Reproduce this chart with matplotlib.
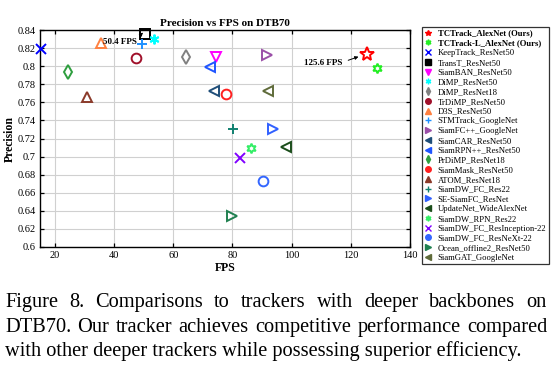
import matplotlib
matplotlib.use("Agg")
import matplotlib.pyplot as plt
from matplotlib.lines import Line2D

plt.rcParams["font.family"] = ["Liberation Serif", "DejaVu Serif"]

trackers = [
    "TCTrack_AlexNet (Ours)", "TCTrack-L_AlexNet (Ours)", "KeepTrack_ResNet50",
    "TransT_ResNet50", "SiamBAN_ResNet50", "DiMP_ResNet50", "DiMP_ResNet18",
    "TrDiMP_ResNet50", "D3S_ResNet50", "STMTrack_GoogleNet", "SiamFC++_GoogleNet",
    "SiamCAR_ResNet50", "SiamRPN++_ResNet50", "PrDiMP_ResNet18", "SiamMask_ResNet50",
    "ATOM_ResNet18", "SiamDW_FC_Res22", "SE-SiamFC_ResNet", "UpdateNet_WideAlexNet",
    "SiamDW_RPN_Res22", "SiamDW_FC_ResInception-22", "SiamDW_FC_ResNeXt-22",
    "Ocean_offline2_ResNet50", "SiamGAT_GoogleNet",
]
fps = [125.6, 128.7, 15.3, 50.4, 74.4, 53.6, 64.3, 47.3, 35.6, 49.4, 91.8,
       73.9, 72.3, 24.3, 77.7, 31.0, 80.3, 93.8, 98.1, 86.3, 82.6, 90.2, 80.0, 92.1]
precision = [0.813, 0.798, 0.819, 0.836, 0.810, 0.830, 0.810, 0.809, 0.826, 0.825,
             0.812, 0.773, 0.799, 0.794, 0.769, 0.766, 0.731, 0.730, 0.711, 0.709,
             0.698, 0.673, 0.634, 0.773]
colors = ["#ff0000", "#22ee22", "#0000ff", "#000000", "#ff00ff", "#00ffff", "#808080",
          "#a0102a", "#ff8040", "#1e90ff", "#9b4fa8", "#1f4e79", "#1f55ff", "#2e9e3e",
          "#ff2020", "#8b3a2a", "#108070", "#3060ff", "#1a4d1a", "#33ee66", "#8000ff",
          "#3366ff", "#208050", "#5f6b3a"]
markers = ["*", (6, 1, 0), "x", "s", "v", (6, 2, 0), "d", "o", "^", "+", ">",
           "<", "<", "d", "o", "^", "+", ">", "<", (6, 1, 0), "x", "o", ">", "<"]

caption = [
    "Figure 8.  Comparisons to trackers with deeper backbones on",
    "DTB70. Our tracker achieves competitive performance compared",
    "with other deeper trackers while possessing superior efficiency.",
]

W, H = 555, 368
fig = plt.figure(figsize=(W / 100, H / 100), dpi=100)
ax = fig.add_axes([40 / W, 1 - 247 / H, 370 / W, 217 / H])

handles = []
for name, x, y, c, m in zip(trackers, fps, precision, colors, markers):
    size = 10 if m == "*" else 7
    ax.plot(x, y, linestyle="none", marker=m, markersize=size, markerfacecolor="none",
            markeredgecolor=c, markeredgewidth=1.4, zorder=3, clip_on=False)
    handles.append(Line2D([], [], linestyle="none", marker=m, markersize=4,
                          color=c, markerfacecolor=c, markeredgecolor=c))

ax.annotate("50.4 FPS", xy=(49.8, 0.8372), xytext=(47.8, 0.8262), fontsize=6.5,
            fontweight="bold", ha="right", va="center",
            arrowprops=dict(arrowstyle="-|>", color="black", lw=0.7, mutation_scale=5,
                            shrinkA=0, shrinkB=0, relpos=(1, 1)))
ax.annotate("125.6 FPS", xy=(122.6, 0.8105), xytext=(117.3, 0.8035), fontsize=6.5,
            fontweight="bold", ha="right", va="center",
            arrowprops=dict(arrowstyle="-|>", color="black", lw=0.7, mutation_scale=5,
                            shrinkA=2, shrinkB=0, relpos=(1, 0.6)))

ax.set_xlim(15, 140)
ax.set_ylim(0.6, 0.84)
ax.set_xticks([20, 40, 60, 80, 100, 120, 140])
ax.set_yticks([0.6 + 0.02 * i for i in range(13)])
ax.set_yticklabels(["0.6", "0.62", "0.64", "0.66", "0.68", "0.7", "0.72", "0.74",
                    "0.76", "0.78", "0.8", "0.82", "0.84"])
ax.tick_params(direction="in", top=True, right=True, labelsize=7.5, length=3,
               width=0.9, pad=3)
ax.grid(True, color="#d0d0d0", lw=0.8)
ax.set_axisbelow(True)
for s in ax.spines.values():
    s.set_linewidth(1.0)
ax.set_title("Precision vs FPS on DTB70", fontsize=8, fontweight="bold", pad=3)
ax.set_xlabel("FPS", fontsize=8.5, fontweight="bold", labelpad=1)
ax.set_ylabel("Precision", fontsize=8.5, fontweight="bold", labelpad=1)

leg = fig.legend(handles, trackers, loc="upper left",
                 bbox_to_anchor=(422 / W, 1 - 27 / H), fontsize=6.2, frameon=True,
                 fancybox=False, edgecolor="black", handlelength=0.8,
                 handletextpad=0.7, labelspacing=0.2, borderpad=0.3,
                 borderaxespad=0)
leg.get_frame().set_linewidth(0.9)
for t in leg.get_texts()[:2]:
    t.set_fontweight("bold")

# caption, first two lines justified
renderer = fig.canvas.get_renderer()
baselines = [307, 332, 356]
for i, line in enumerate(caption):
    y = 1 - baselines[i] / H
    if i == 2:
        fig.text(5 / W, y, line, fontsize=14.7, va="baseline")
        continue
    words = line.split()
    texts = [fig.text(0, y, w, fontsize=14.7, va="baseline") for w in words]
    widths = [t.get_window_extent(renderer).width for t in texts]
    gap = (547 - 5 - sum(widths)) / (len(words) - 1)
    x = 5
    for t, w in zip(texts, widths):
        t.set_x(x / W)
        x += w + gap

fig.savefig("out.png", dpi=100)
